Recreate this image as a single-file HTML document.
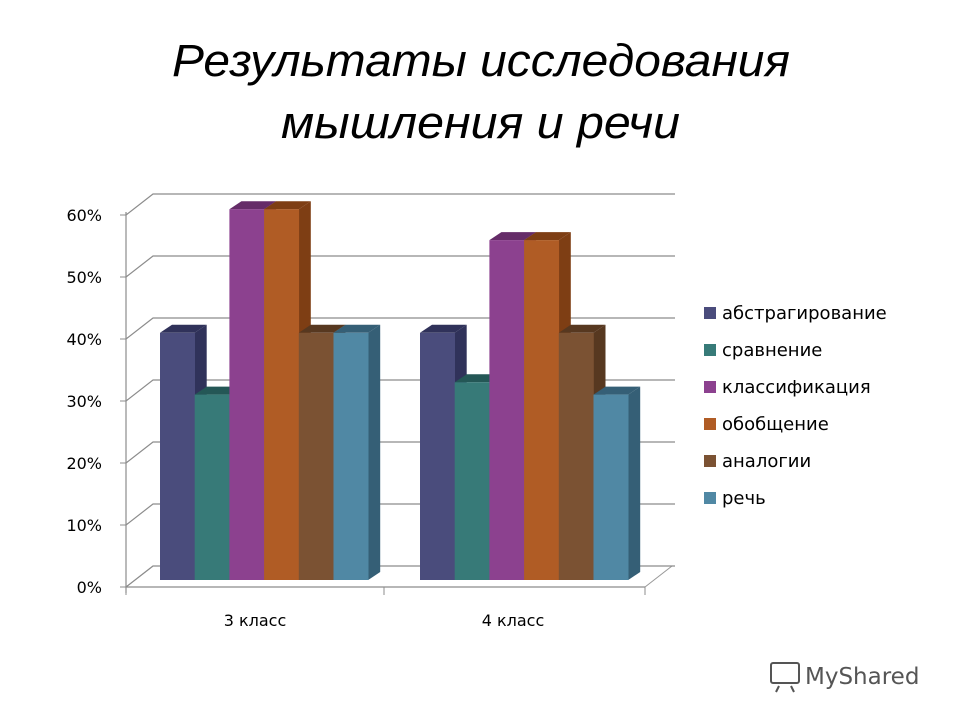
<!DOCTYPE html>
<html><head><meta charset="utf-8"><style>
body{margin:0;background:#fff;width:960px;height:720px;overflow:hidden;font-family:"Liberation Sans","DejaVu Sans",sans-serif}
svg{position:absolute;left:0;top:0}
</style></head><body>
<svg id="c" width="960" height="720">
<text x="172" y="76" textLength="618" lengthAdjust="spacingAndGlyphs" font-size="45" font-style="italic" fill="#000" font-family="Liberation Sans, DejaVu Sans, sans-serif">Результаты исследования</text>
<text x="281" y="138" textLength="399" lengthAdjust="spacingAndGlyphs" font-size="45" font-style="italic" fill="#000" font-family="Liberation Sans, DejaVu Sans, sans-serif">мышления и речи</text>
<g id="grid"></g><g id="bars"></g><g id="axes"></g><g id="legend"></g>
<g>
<rect x="771" y="663" width="28" height="20" rx="2" fill="none" stroke="#555" stroke-width="2"/>
<line x1="779" y1="686" x2="776" y2="692" stroke="#555" stroke-width="2"/><line x1="791" y1="686" x2="794" y2="692" stroke="#555" stroke-width="2"/>
<text x="805" y="684" font-size="23" fill="#555" font-family="DejaVu Sans, sans-serif">MyShared</text>
</g>
</svg>
<script>
const categories=["3 класс","4 класс"];
const seriesNames=["абстрагирование","сравнение","классификация","обобщение","аналогии","речь"];
const seriesColors=["#4a4c7c","#377a78","#8c418f","#b05c25","#7b5233","#5088a4"];
const sideColors=["#30325a","#245756","#652c68","#7e3e14","#573820","#355f76"];
const values3=[40,30,60,60,40,40];
const values4=[40,32,55,55,40,30];
const yTicks=[0,10,20,30,40,50,60];
const NS="http://www.w3.org/2000/svg";
const LF="DejaVu Sans, sans-serif";
function el(t,a,p){const e=document.createElementNS(NS,t);for(const k in a)e.setAttribute(k,a[k]);p.appendChild(e);return e;}
const DX=27,DY=-21;
function yFront(v){return 587-v*6.2;}
function yBar(v){return 580-v*6.18;}
const grid=document.getElementById('grid'),bars=document.getElementById('bars'),axes=document.getElementById('axes'),legend=document.getElementById('legend');
let fl=el('path',{d:`M126 587 L645 587 L${645+DX} ${587+DY} L${126+DX} ${587+DY} Z`,fill:"none",stroke:"#999","stroke-width":1},grid);


yTicks.forEach(v=>{
 const yf=yFront(v);
 let g=el('path',{d:`M126 ${yf} L${126+DX} ${yf+DY} L${645+DX+3} ${yf+DY}`,fill:"none",stroke:"#8c8c8c","stroke-width":1.2},grid);
 
 
 el('line',{x1:120,y1:yf,x2:126,y2:yf,stroke:"#8c8c8c"},axes);
 let t=el('text',{x:102,y:yf+6,"text-anchor":"end","font-size":16,fill:"#000","font-family":LF},axes);
 t.textContent=v+"%";
 
 
});
el('line',{x1:126,y1:yFront(60)-3,x2:126,y2:593,stroke:"#8c8c8c","stroke-width":1.2},axes);
el('line',{x1:126,y1:587,x2:645,y2:587,stroke:"#8c8c8c","stroke-width":1.2},axes);
[126,384,645].forEach(x=>el('line',{x1:x,y1:587,x2:x,y2:595,stroke:"#8c8c8c"},axes));
const groupStart=[160,420],BW=34.7,bx=12,by=-8;
[values3,values4].forEach((vals,gi)=>{
 vals.forEach((v,i)=>{
  const x=groupStart[gi]+i*BW,yt=yBar(v),yb=580;
  let s=el('polygon',{points:`${x+BW},${yt} ${x+BW+bx},${yt+by} ${x+BW+bx},${yb+by} ${x+BW},${yb}`,fill:sideColors[i]},bars);
  
  
  let tp=el('polygon',{points:`${x},${yt} ${x+bx},${yt+by} ${x+BW+bx},${yt+by} ${x+BW},${yt}`,fill:sideColors[i]},bars);
  
  
  let r=el('rect',{x:x,y:yt,width:BW+0.3,height:yb-yt,fill:seriesColors[i]},bars);
  
  
 });
 let c=el('text',{x:[255,513][gi],y:626,"text-anchor":"middle","font-size":16,fill:"#000","font-family":LF},axes);
 c.textContent=categories[gi];
 
 
});
seriesNames.forEach((n,i)=>{
 const y=313+i*37;
 let sq=el('rect',{x:704,y:y-6,width:12,height:12,fill:seriesColors[i]},legend);
 
 
 let t=el('text',{x:722,y:y+6,"font-size":18,fill:"#000","font-family":LF},legend);
 t.textContent=n;
 
 
});
</script>
</body></html>
